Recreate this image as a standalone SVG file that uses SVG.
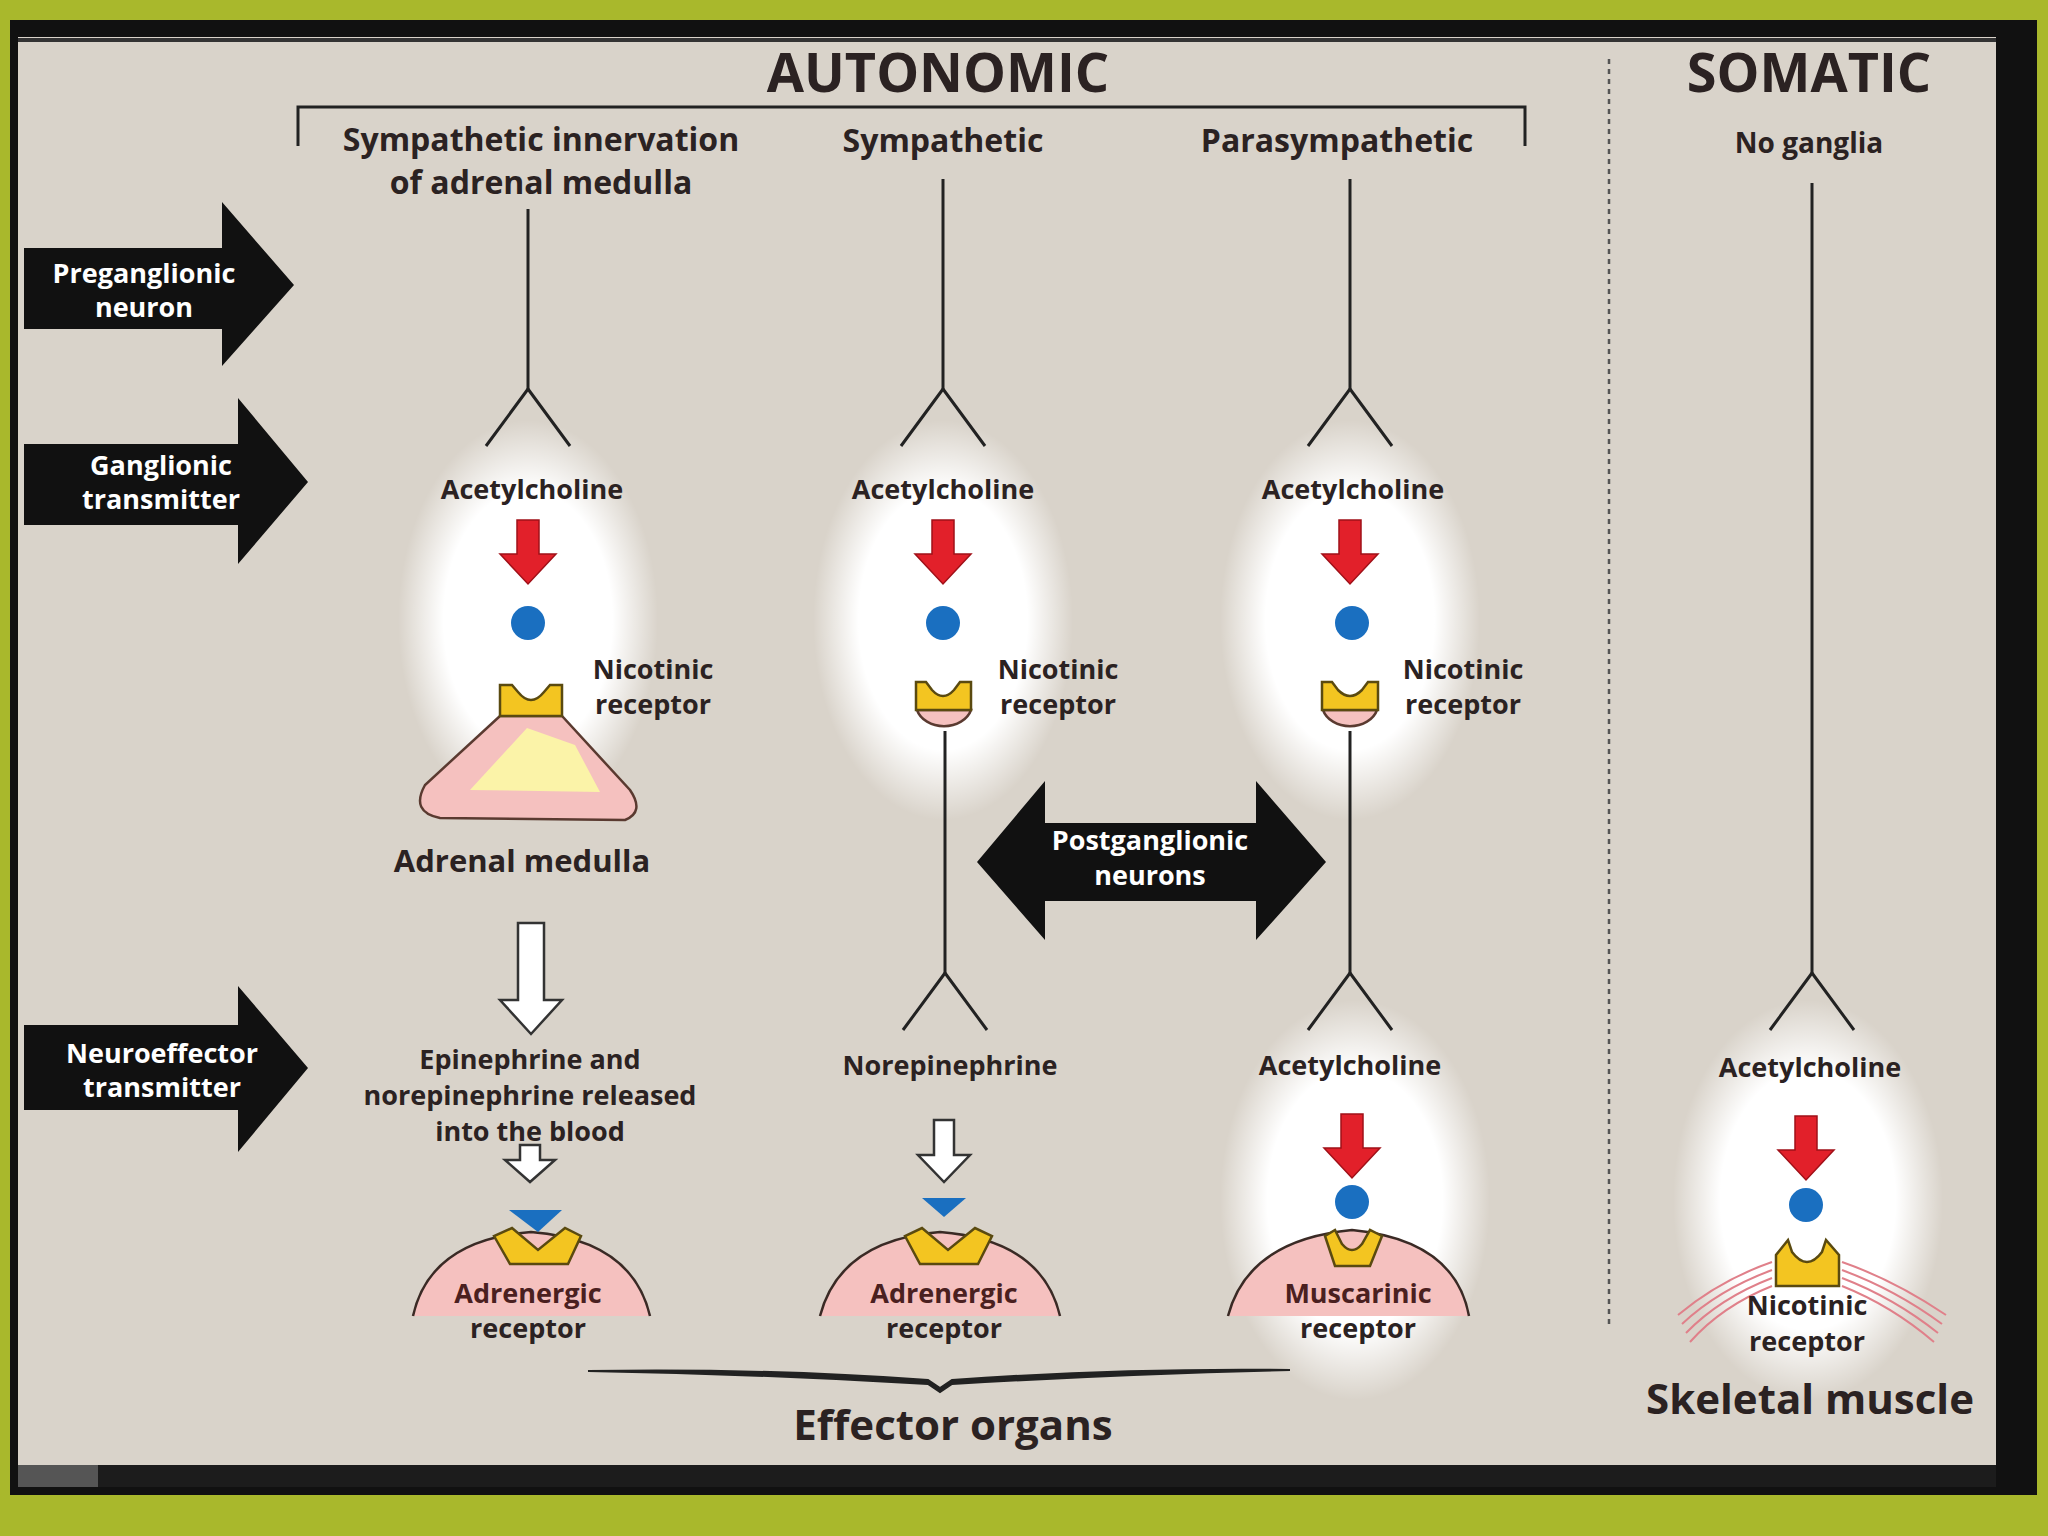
<svg xmlns="http://www.w3.org/2000/svg" width="2048" height="1536" viewBox="0 0 2048 1536">
<defs>
<radialGradient id="glow" cx="0.5" cy="0.5" r="0.5">
<stop offset="0" stop-color="#ffffff"/><stop offset="0.65" stop-color="#ffffff"/><stop offset="1" stop-color="#ffffff" stop-opacity="0"/>
</radialGradient>
<g id="red"><path d="M-11,0 H11 V34 H28 L0,64 L-28,34 H-11 Z" fill="#e2202a" stroke="#a01018" stroke-width="1.5"/></g>
<g id="fork"><path d="M0,0 L-42,57 M0,0 L42,57" fill="none" stroke="#222" stroke-width="3"/></g>
</defs>
<style>
text{font-family:"Open Sans","Liberation Sans",sans-serif;font-weight:bold;fill:#2b2222;text-anchor:middle}
.h{font-size:32px}.m{font-size:27px}.w{fill:#ffffff;font-size:27px}
.ln{stroke:#222;stroke-width:3;fill:none}
.ylw{fill:#f3c521;stroke:#5a4a10;stroke-width:2.5}
.pink{fill:#f5c1bf;stroke:#5a3a30;stroke-width:2.5}
.dome{fill:#f5c1bf;stroke:#3a2a25;stroke-width:2.5}
.blue{fill:#1a6fc0}
.wa{fill:#ffffff;stroke:#333;stroke-width:2.5}
.blk{fill:#111}
</style>
<rect width="2048" height="1536" fill="#a9b82c"/>
<rect x="10" y="20" width="2027" height="1475" fill="#111"/>
<rect x="18" y="37" width="1978" height="1428" fill="#d9d3ca"/>
<rect x="18" y="1465" width="1978" height="22" fill="#1c1c1c"/>
<rect x="18" y="1465" width="80" height="22" fill="#555"/>
<line x1="18" y1="40" x2="1996" y2="40" stroke="#333" stroke-width="4"/>

<g id="glows">
<ellipse cx="528" cy="620" rx="130" ry="200" fill="url(#glow)"/>
<ellipse cx="943" cy="620" rx="130" ry="200" fill="url(#glow)"/>
<ellipse cx="1350" cy="620" rx="130" ry="200" fill="url(#glow)"/>
<ellipse cx="1355" cy="1200" rx="135" ry="200" fill="url(#glow)"/>
<ellipse cx="1808" cy="1200" rx="135" ry="200" fill="url(#glow)"/>
</g>

<g id="headers">
<text x="938" y="92" style="font-size:54px">AUTONOMIC</text>
<text x="1809" y="92" style="font-size:54px">SOMATIC</text>
<path d="M298,146 V107 H1525 V146" class="ln"/>
<line x1="1609" y1="59" x2="1609" y2="1326" stroke="#555" stroke-width="2.5" stroke-dasharray="5,5"/>
<text x="541" y="151" class="h">Sympathetic innervation</text>
<text x="541" y="194" class="h">of adrenal medulla</text>
<text x="943" y="152" class="h">Sympathetic</text>
<text x="1337" y="152" class="h">Parasympathetic</text>
<text x="1809" y="153" style="font-size:28px">No ganglia</text>
</g>

<g id="left-arrows">
<path d="M24,248 H222 V202 L294,285 L222,366 V329 H24 Z" class="blk"/>
<text x="144" y="283" class="w">Preganglionic</text><text x="144" y="317" class="w">neuron</text>
<path d="M24,444 H238 V398 L308,482 L238,564 V525 H24 Z" class="blk"/>
<text x="161" y="475" class="w">Ganglionic</text><text x="161" y="509" class="w">transmitter</text>
<path d="M24,1025 H238 V986 L308,1068 L238,1152 V1110 H24 Z" class="blk"/>
<text x="162" y="1063" class="w">Neuroeffector</text><text x="162" y="1097" class="w">transmitter</text>
</g>

<g id="connectors">
<line x1="528" y1="209" x2="528" y2="389" class="ln"/><use href="#fork" x="528" y="389"/>
<line x1="943" y1="179" x2="943" y2="389" class="ln"/><use href="#fork" x="943" y="389"/>
<line x1="1350" y1="179" x2="1350" y2="389" class="ln"/><use href="#fork" x="1350" y="389"/>
<line x1="1812" y1="183" x2="1812" y2="973" class="ln"/><use href="#fork" x="1812" y="973"/>
<line x1="945" y1="731" x2="945" y2="973" class="ln"/><use href="#fork" x="945" y="973"/>
<line x1="1350" y1="731" x2="1350" y2="973" class="ln"/><use href="#fork" x="1350" y="973"/>
</g>

<g id="col1">
<text x="532" y="499" class="m">Acetylcholine</text>
<use href="#red" x="528" y="520"/>
<circle cx="528" cy="623" r="17" class="blue"/>
<text x="653" y="679" class="m">Nicotinic</text><text x="653" y="714" class="m">receptor</text>
<path d="M500,716 L425,785 Q410,812 440,818 L625,820 Q645,812 630,790 L562,716 Z" class="pink"/>
<path d="M527,728 L470,790 L600,792 L575,745 Z" fill="#fbf3a8"/>
<path d="M500,716 V685 H512 L518,692 Q531,708 544,692 L550,685 H562 V716 Z" class="ylw"/>
<text x="522" y="872" style="font-size:31px">Adrenal medulla</text>
<path d="M518,923 H544 V1000 H562 L531,1034 L500,1000 H518 Z" class="wa"/>
<text x="530" y="1069" class="m">Epinephrine and</text>
<text x="530" y="1105" class="m">norepinephrine released</text>
<text x="530" y="1141" class="m">into the blood</text>
<path d="M520,1145 H540 V1160 H555 L530,1182 L505,1160 H520 Z" class="wa"/>
<path d="M413,1316 Q430,1240 531,1232 Q632,1240 650,1316" class="dome"/>
<path d="M509,1210 H562 L538,1232 Z" class="blue"/>
<path d="M494,1236 L510,1264 H568 L581,1236 L565,1228 L538,1250 L512,1228 Z" class="ylw"/>
<text x="528" y="1303" class="m" style="fill:#4a2020">Adrenergic</text>
<text x="528" y="1338" class="m">receptor</text>
</g>

<g id="col2">
<text x="943" y="499" class="m">Acetylcholine</text>
<use href="#red" x="943" y="520"/>
<circle cx="943" cy="623" r="17" class="blue"/>
<text x="1058" y="679" class="m">Nicotinic</text><text x="1058" y="714" class="m">receptor</text>
<path d="M917,710 A28,22 0 0 0 971,710 Z" class="pink"/>
<path d="M916,710 V682 H926 L932,690 Q943,702 954,690 L960,682 H971 V710 Z" class="ylw"/>
<text x="950" y="1075" class="m">Norepinephrine</text>
<path d="M934,1120 H954 V1155 H970 L944,1182 L918,1155 H934 Z" class="wa"/>
<path d="M922,1198 H966 L944,1217 Z" class="blue"/>
<path d="M820,1316 Q840,1240 940,1232 Q1042,1240 1060,1316" class="dome"/>
<path d="M905,1236 L920,1264 H978 L992,1236 L975,1228 L948,1250 L922,1228 Z" class="ylw"/>
<text x="944" y="1303" class="m" style="fill:#4a2020">Adrenergic</text>
<text x="944" y="1338" class="m">receptor</text>
</g>

<g id="col3">
<text x="1353" y="499" class="m">Acetylcholine</text>
<use href="#red" x="1350" y="520"/>
<circle cx="1352" cy="623" r="17" class="blue"/>
<text x="1463" y="679" class="m">Nicotinic</text><text x="1463" y="714" class="m">receptor</text>
<path d="M1323,710 A28,22 0 0 0 1377,710 Z" class="pink"/>
<path d="M1322,710 V682 H1332 L1338,690 Q1350,702 1362,690 L1368,682 H1378 V710 Z" class="ylw"/>
<text x="1350" y="1075" class="m">Acetylcholine</text>
<use href="#red" x="1352" y="1114"/>
<circle cx="1352" cy="1202" r="17" class="blue"/>
<path d="M1228,1316 Q1248,1240 1352,1230 Q1455,1240 1469,1316" class="dome"/>
<path d="M1325,1236 L1335,1266 H1370 L1382,1236 L1370,1230 L1362,1244 Q1352,1256 1342,1244 L1335,1230 Z" class="ylw"/>
<text x="1358" y="1303" class="m" style="fill:#4a2020">Muscarinic</text>
<text x="1358" y="1338" class="m">receptor</text>
</g>

<g id="somatic">
<text x="1810" y="1077" class="m">Acetylcholine</text>
<use href="#red" x="1806" y="1116"/>
<circle cx="1806" cy="1205" r="17" class="blue"/>
<g stroke="#e0808a" stroke-width="2" fill="none">
<path d="M1772,1262 Q1720,1280 1678,1315"/><path d="M1772,1270 Q1718,1290 1682,1324"/><path d="M1772,1278 Q1720,1298 1686,1333"/><path d="M1772,1286 Q1722,1306 1690,1342"/>
<path d="M1842,1262 Q1894,1280 1946,1315"/><path d="M1842,1270 Q1896,1290 1942,1324"/><path d="M1842,1278 Q1894,1298 1938,1333"/><path d="M1842,1286 Q1892,1306 1934,1342"/>
</g>
<path d="M1776,1286 V1255 L1788,1240 L1792,1252 Q1807,1272 1822,1252 L1826,1240 L1839,1255 V1286 Z" class="ylw"/>
<text x="1807" y="1315" class="m">Nicotinic</text><text x="1807" y="1351" class="m">receptor</text>
<text x="1810" y="1414" style="font-size:42px">Skeletal muscle</text>
</g>

<g id="postganglionic">
<path d="M977,862 L1045,781 V823 H1256 V781 L1326,862 L1256,940 V901 H1045 V940 Z" class="blk"/>
<text x="1150" y="850" class="w">Postganglionic</text><text x="1150" y="885" class="w">neurons</text>
</g>

<g id="effector">
<path d="M588,1371 Q760,1368 928,1380 L940,1388 L952,1380 Q1120,1368 1290,1370 Q1120,1374 952,1384 L940,1392 L928,1384 Q760,1374 588,1371 Z" fill="#222" stroke="#222" stroke-width="2"/>
<text x="953" y="1440" style="font-size:42px">Effector organs</text>
</g>
</svg>
